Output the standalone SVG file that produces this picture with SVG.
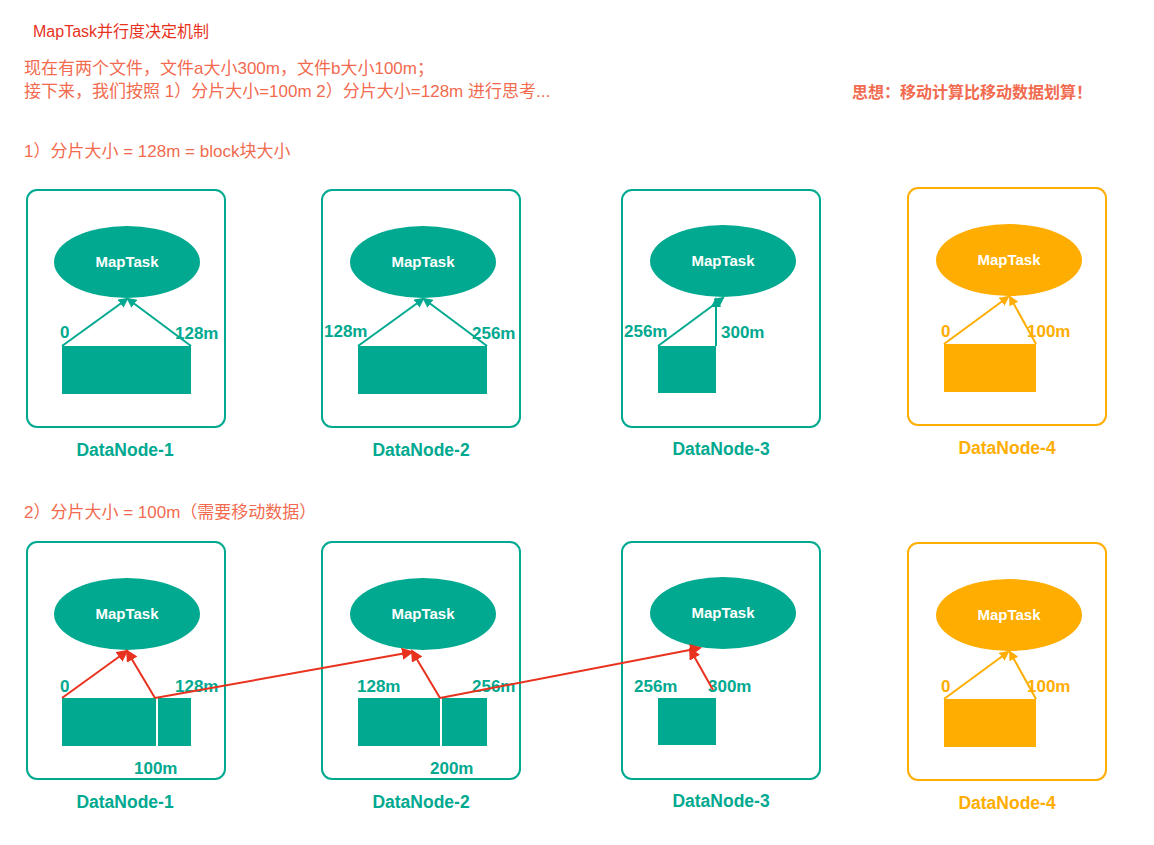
<svg xmlns="http://www.w3.org/2000/svg" width="1154" height="845" viewBox="0 0 1154 845">
<style>
text{font-family:"Liberation Sans","Noto Sans CJK SC",sans-serif}
.t{fill:#f26b4f;font-size:17px}
.box{fill:none;stroke:#00a98f;stroke-width:2}
.boxo{fill:none;stroke:#ffad00;stroke-width:2}
.g{fill:#00a98f}.o{fill:#ffad00}
.mt{fill:#fff;font-size:15px;font-weight:bold;text-anchor:middle}
.lb{fill:#00a98f;font-size:17px;font-weight:bold}
.lbo{fill:#ffad00;font-size:17px;font-weight:bold}
.dn{font-size:17.5px;font-weight:bold;text-anchor:middle}
.cg{stroke:#00a98f;stroke-width:2;fill:none;marker-end:url(#ag)}
.co{stroke:#ffad00;stroke-width:2;fill:none;marker-end:url(#ao)}
.cr{stroke:#e8321e;stroke-width:2;fill:none;marker-end:url(#ar)}
</style>
<defs>
<marker id="ag" markerWidth="10" markerHeight="10" refX="8" refY="5" orient="auto" markerUnits="userSpaceOnUse"><path d="M0,0L10,5L0,10z" fill="#00a98f"/></marker>
<marker id="ao" markerWidth="10" markerHeight="10" refX="8" refY="5" orient="auto" markerUnits="userSpaceOnUse"><path d="M0,0L10,5L0,10z" fill="#ffad00"/></marker>
<marker id="ar" markerWidth="12" markerHeight="12" refX="10" refY="6" orient="auto" markerUnits="userSpaceOnUse"><path d="M0,0L12,6L0,12z" fill="#e8321e"/></marker>
</defs>
<rect width="1154" height="845" fill="#fff"/>
<text x="33" y="37" style="fill:#e8321e;font-size:16px">MapTask并行度决定机制</text>
<text x="24" y="74" class="t">现在有两个文件，文件a大小300m，文件b大小100m；</text>
<text x="24" y="97" class="t">接下来，我们按照 1）分片大小=100m  2）分片大小=128m 进行思考...</text>
<text x="852" y="98" class="t" style="font-weight:bold;font-size:16px">思想：移动计算比移动数据划算！</text>
<text x="24" y="157" class="t">1）分片大小 = 128m = block块大小</text>
<text x="24" y="518" class="t">2）分片大小 = 100m（需要移动数据）</text>

<g id="r1n1"><rect x="27" y="190" width="198" height="237" rx="10" class="box"/><ellipse cx="127" cy="262" rx="73" ry="36" class="g"/><text x="127" y="267" class="mt">MapTask</text><rect x="62" y="346" width="129" height="48" class="g"/><text x="60" y="338" class="lb">0</text><text x="175" y="339" class="lb">128m</text><text x="125" y="456" class="dn g">DataNode-1</text></g>
<g id="r1n2"><rect x="322" y="190" width="198" height="237" rx="10" class="box"/><ellipse cx="423" cy="262" rx="73" ry="36" class="g"/><text x="423" y="267" class="mt">MapTask</text><rect x="358" y="346" width="129" height="48" class="g"/><text x="324" y="337" class="lb">128m</text><text x="472" y="339" class="lb">256m</text><text x="421" y="456" class="dn g">DataNode-2</text></g>
<g id="r1n3"><rect x="622" y="190" width="198" height="237" rx="10" class="box"/><ellipse cx="723" cy="261" rx="73" ry="36" class="g"/><text x="723" y="266" class="mt">MapTask</text><rect x="658" y="346" width="58" height="47" class="g"/><text x="624" y="337" class="lb">256m</text><text x="721" y="338" class="lb">300m</text><text x="721" y="455" class="dn g">DataNode-3</text></g>
<g id="r1n4"><rect x="908" y="188" width="198" height="237" rx="10" class="boxo"/><ellipse cx="1009" cy="260" rx="73" ry="36" class="o"/><text x="1009" y="265" class="mt">MapTask</text><rect x="944" y="344" width="92" height="48" class="o"/><text x="941" y="337" class="lbo">0</text><text x="1027" y="337" class="lbo">100m</text><text x="1007" y="454" class="dn o">DataNode-4</text></g>

<g id="r2n1"><rect x="27" y="542" width="198" height="237" rx="10" class="box"/><ellipse cx="127" cy="614" rx="73" ry="36" class="g"/><text x="127" y="619" class="mt">MapTask</text><rect x="62" y="698" width="129" height="48" class="g"/><line x1="157" y1="698" x2="157" y2="746" stroke="#fff" stroke-width="2"/><text x="60" y="692" class="lb">0</text><text x="175" y="692" class="lb">128m</text><text x="134" y="774" class="lb">100m</text><text x="125" y="808" class="dn g">DataNode-1</text></g>
<g id="r2n2"><rect x="322" y="542" width="198" height="237" rx="10" class="box"/><ellipse cx="423" cy="614" rx="73" ry="36" class="g"/><text x="423" y="619" class="mt">MapTask</text><rect x="358" y="698" width="129" height="48" class="g"/><line x1="441" y1="698" x2="441" y2="746" stroke="#fff" stroke-width="2"/><text x="357" y="692" class="lb">128m</text><text x="472" y="692" class="lb">256m</text><text x="430" y="774" class="lb">200m</text><text x="421" y="808" class="dn g">DataNode-2</text></g>
<g id="r2n3"><rect x="622" y="542" width="198" height="237" rx="10" class="box"/><ellipse cx="723" cy="613" rx="73" ry="36" class="g"/><text x="723" y="618" class="mt">MapTask</text><rect x="658" y="698" width="58" height="47" class="g"/><text x="634" y="692" class="lb">256m</text><text x="708" y="692" class="lb">300m</text><text x="721" y="807" class="dn g">DataNode-3</text></g>
<g id="r2n4"><rect x="908" y="543" width="198" height="237" rx="10" class="boxo"/><ellipse cx="1009" cy="615" rx="73" ry="36" class="o"/><text x="1009" y="620" class="mt">MapTask</text><rect x="944" y="699" width="92" height="48" class="o"/><text x="941" y="692" class="lbo">0</text><text x="1027" y="692" class="lbo">100m</text><text x="1007" y="809" class="dn o">DataNode-4</text></g>

<g id="connectors">
<line x1="62" y1="346" x2="127" y2="299" class="cg"/><line x1="191" y1="346" x2="128" y2="299" class="cg"/>
<line x1="358" y1="346" x2="423" y2="299" class="cg"/><line x1="487" y1="346" x2="424" y2="299" class="cg"/>
<line x1="658" y1="346" x2="723" y2="298" class="cg"/><line x1="716" y1="346" x2="716" y2="299" class="cg"/>
<line x1="944" y1="344" x2="1008" y2="297" class="co"/><line x1="1036" y1="344" x2="1010" y2="297" class="co"/>
<line x1="62" y1="698" x2="127" y2="651" class="cr"/><line x1="155" y1="698" x2="127" y2="651" class="cr"/>
<line x1="155" y1="698" x2="412" y2="652" class="cr"/>
<line x1="440" y1="698" x2="412" y2="651" class="cr"/><line x1="440" y1="698" x2="700" y2="648" class="cr"/>
<line x1="713" y1="690" x2="690" y2="649" class="cr"/>
<line x1="944" y1="699" x2="1008" y2="652" class="co"/><line x1="1036" y1="699" x2="1010" y2="652" class="co"/>
</g>
</svg>
